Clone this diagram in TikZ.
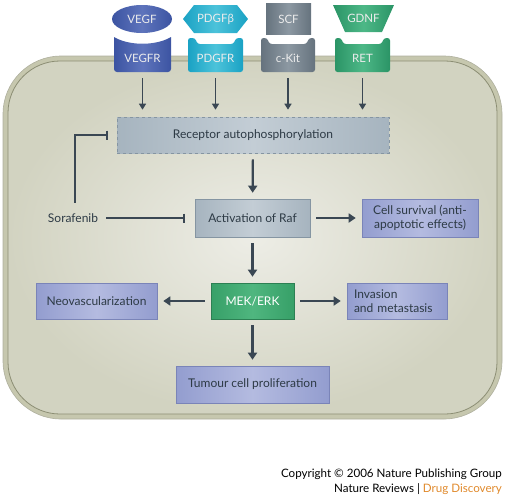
\documentclass[tikz,border=0pt]{standalone}
\usepackage{fontspec}
\setmainfont{Lato}
\usetikzlibrary{arrows.meta,shapes.geometric}
\definecolor{arr}{HTML}{3A4753}
\definecolor{txt}{HTML}{2D3A45}
\definecolor{band}{HTML}{C6C7AE}
\definecolor{bandline}{HTML}{8C8E74}
\definecolor{cellin}{HTML}{EDEDE6}
\definecolor{cellout}{HTML}{D2D3C1}
\definecolor{vblue}{HTML}{3C54A2}
\definecolor{vbluel}{HTML}{5E74BC}
\definecolor{pcyan}{HTML}{1AA2C4}
\definecolor{pcyanl}{HTML}{4CC3DA}
\definecolor{kgray}{HTML}{66737E}
\definecolor{kgrayl}{HTML}{8C98A2}
\definecolor{rgreen}{HTML}{2B9466}
\definecolor{rgreenl}{HTML}{4DB887}
\definecolor{gbox}{HTML}{A6B4BF}
\definecolor{gboxl}{HTML}{C3CDD5}
\definecolor{gboxd}{HTML}{8595A2}
\definecolor{bbox}{HTML}{939DCF}
\definecolor{bboxl}{HTML}{B4BBE0}
\definecolor{bboxd}{HTML}{7A84B8}
\definecolor{mek}{HTML}{37A068}
\definecolor{mekl}{HTML}{4FB67F}
\definecolor{orangeND}{HTML}{E0892B}
\tikzset{
  x=1pt, y=-1pt,
  lab/.style={font=\fontsize{11.5}{13}\selectfont, text=white!85!gray, inner sep=0pt},
  boxtxt/.style={font=\fontsize{12}{14}\selectfont, text=txt, inner sep=0pt},
  graybox/.style={boxtxt, draw=gboxd, line width=0.6pt, left color=gbox, right color=gbox, middle color=gboxl},
  bluebox/.style={boxtxt, draw=bboxd, line width=0.6pt, left color=bbox, right color=bbox, middle color=bboxl},
  greenbox/.style={boxtxt, text=white, draw=mek!80!black, line width=0.6pt, left color=mek, right color=mek, middle color=mekl},
  flow/.style={draw=arr, line width=2.2pt, -{Triangle[length=7pt,width=9pt]}, shorten <=6pt, shorten >=6pt},
  rflow/.style={draw=arr, line width=1.4pt, -{Triangle[length=6pt,width=7pt]}, shorten <=6pt, shorten >=7pt},
  inhib/.style={draw=arr, line width=2.2pt, -{Bar[width=9pt,line width=2.2pt]}},
}
\begin{document}
\begin{tikzpicture}
\useasboundingbox (0,0) rectangle (505,499);
% cell
\fill[band, draw=bandline!70, line width=0.6pt, rounded corners=58] (3,56) rectangle (502,419);
\shade[inner color=cellin, outer color=cellout, rounded corners=52] (8,61) rectangle (497,414);
\draw[bandline, line width=0.8pt, rounded corners=52] (8,61) rectangle (497,414);

% ligands
\shade[left color=vblue, right color=vblue, middle color=vbluel] (142,19) ellipse [x radius=30, y radius=14];
\node[lab] (vegf) at (142,19) {VEGF};
\shade[left color=pcyan, right color=pcyan, middle color=pcyanl] (183,19) -- (194,5) -- (237,5) -- (248,19) -- (237,33) -- (194,33) -- cycle;
\node[lab] (pdgf) at (215.5,19) {PDGFβ};
\shade[left color=kgray, right color=kgray, middle color=kgrayl] (266,3) rectangle (311,34);
\node[lab] (scf) at (288.5,19) {SCF};
\shade[left color=rgreen, right color=rgreen, middle color=rgreenl] (333,5) -- (394,5) -- (382,32) -- (345,32) -- cycle;
\node[lab] (gdnf) at (363.5,18) {GDNF};

% receptors
\shade[left color=vblue, right color=vblue, middle color=vbluel] (114,37) .. controls (129,46) and (156,46) .. (171,37) [rounded corners=3] -- (171,72) -- (114,72) -- (114,37);
\node[lab, minimum width=57, minimum height=28] (vegfr) at (142.5,58) {VEGFR};
\shade[left color=pcyan, right color=pcyan, middle color=pcyanl, rounded corners=2.5] (188,72) -- (188,38) -- (195,38) -- (197.5,44) -- (233.5,44) -- (236,38) -- (243,38) -- (243,72) -- cycle;
\node[lab, minimum width=55, minimum height=28] (pdgfr) at (215.5,58) {PDGFR};
\shade[left color=kgray, right color=kgray, middle color=kgrayl, rounded corners=2.5] (261,72) -- (261,38) -- (267,38) -- (269.5,44) -- (306.5,44) -- (309,38) -- (315,38) -- (315,72) -- cycle;
\node[lab, minimum width=54, minimum height=28] (ckit) at (288,58) {c-Kit};
\shade[left color=rgreen, right color=rgreen, middle color=rgreenl, rounded corners=2.5] (335,72) -- (335,38) -- (341,38) -- (343.5,44) -- (381.5,44) -- (384,38) -- (390,38) -- (390,72) -- cycle;
\node[lab, minimum width=55, minimum height=28] (ret) at (362.5,58) {RET};

% boxes
\node[graybox, dashed, minimum width=272, minimum height=36] (auto) at (253,135) {Receptor autophosphorylation};
\node[graybox, minimum width=115, minimum height=38] (raf) at (252.5,218) {Activation of Raf};
\node[bluebox, minimum width=116, minimum height=38, align=center] (surv) at (420,218) {Cell survival (anti-\\apoptotic effects)};
\node[greenbox, minimum width=83, minimum height=36] (mekerk) at (252.5,301) {MEK/ERK};
\node[bluebox, minimum width=121, minimum height=36] (neo) at (96.5,301) {Neovascularization};
\node[bluebox, minimum width=100, minimum height=36, align=left, text width=86] (inv) at (397,301) {Invasion\\and metastasis};
\node[bluebox, minimum width=153, minimum height=37] (tum) at (252.5,384.5) {Tumour cell proliferation};
\node[boxtxt, inner sep=0pt, minimum height=14] (sor) at (73,218) {Sorafenib};

% receptor arrows
\draw[rflow] (vegfr.south) -- (vegfr.south |- auto.north);
\draw[rflow] (pdgfr.south) -- (pdgfr.south |- auto.north);
\draw[rflow] (ckit.south) -- (ckit.south |- auto.north);
\draw[rflow] (ret.south) -- (ret.south |- auto.north);

% flow arrows
\draw[flow] (auto) -- (raf);
\draw[flow] (raf) -- (surv);
\draw[flow] (raf) -- (mekerk);
\draw[flow] (mekerk) -- (neo);
\draw[flow] (mekerk) -- (inv);
\draw[flow] (mekerk) -- (tum);

% inhibition
\draw[inhib, shorten <=8pt, shorten >=10pt] (sor.east) -- (raf.west);
\draw[inhib, shorten <=8pt, shorten >=9pt] ([xshift=2]sor.north) |- (auto.west);

% credits
\node[anchor=east, inner sep=0pt, font=\fontsize{11.6}{13}\selectfont, text=black] (copy) at (502,474) {Copyright © 2006 Nature Publishing Group};
\node[anchor=east, inner sep=0pt, font=\fontsize{11.6}{13}\selectfont, text=black] (journal) at (502,489) {Nature Reviews | \textcolor{orangeND}{Drug Discovery}};
\end{tikzpicture}
\end{document}
